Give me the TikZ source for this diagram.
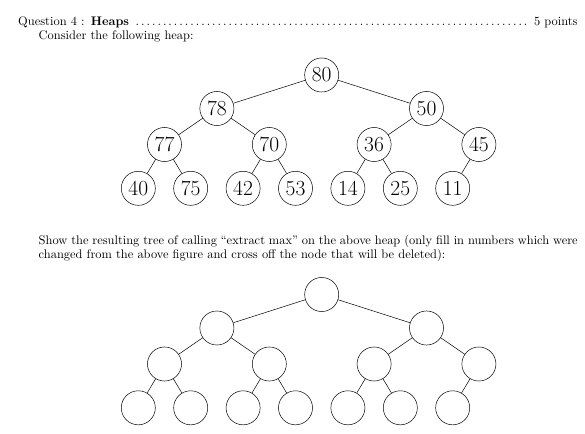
\documentclass[tikz,border=0pt]{standalone}
\usepackage{amsmath,amssymb}
\usepackage{tikz}
\usetikzlibrary{calc}

\tikzset{hnode/.style={draw,circle,minimum size=27.4pt,inner sep=0pt,font=\LARGE}}

\begin{document}
\begin{tikzpicture}[x=0.8045pt,y=-0.8045pt]
  \useasboundingbox (0,0) rectangle (585,434);
  % question text
  \node[anchor=base west,text width=450pt,inner sep=0pt] (qhead) at (18,25.3)
    {Question 4 : \textbf{Heaps} \dotfill\ 5 points};
  \node[anchor=base west,inner sep=0pt] (qintro) at (38.5,39.3) {Consider the following heap:};
  \node[anchor=base west,text width=433.6pt,align=justify,inner sep=0pt] (qtask) at (38.5,244)
    {Show the resulting tree of calling ``extract max'' on the above heap (only fill in numbers which were changed from the above figure and cross off the node that will be deleted):};
  % the heap and the empty tree below it
  \foreach \i/\x/\y/\v in {1/321.7/75/80, 2/216.9/108.5/78, 3/426.5/108.5/50,
      4/164.5/144.5/77, 5/269.3/144.5/70, 6/374.1/144.5/36, 7/478.9/144.5/45,
      8/138.3/188.3/40, 9/190.7/188.3/75, 10/243.1/188.3/42, 11/295.5/188.3/53,
      12/347.9/188.3/14, 13/400.3/188.3/25, 14/452.7/188.3/11}{
    \node[hnode] (a\i) at (\x,\y) {\v};
    \node[hnode] (b\i) at (\x,\y+219.5) {};
  }
  \foreach \c in {2,...,14}{
    \pgfmathtruncatemacro\prnt{\c/2}
    \draw (a\prnt) -- (a\c);
    \draw (b\prnt) -- (b\c);
  }
\end{tikzpicture}
\end{document}
